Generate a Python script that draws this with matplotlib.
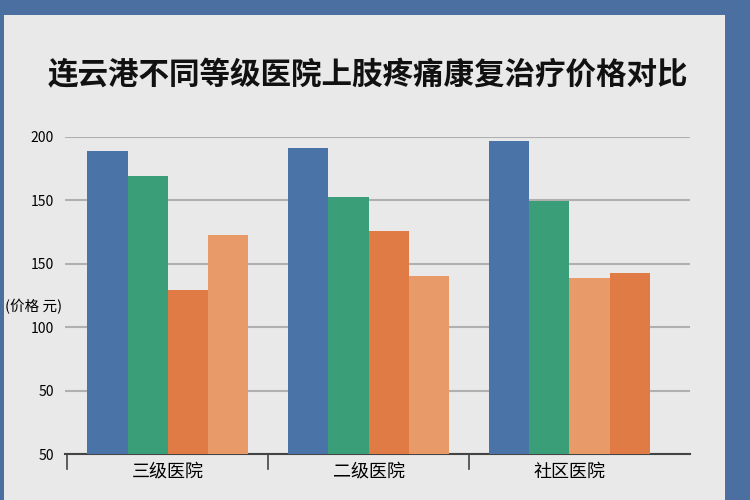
import matplotlib
matplotlib.use("Agg")
import matplotlib.pyplot as plt
from matplotlib.patches import Rectangle
import numpy as np

plt.rcParams['font.family'] = ['Noto Sans CJK SC', 'DejaVu Sans']

categories = ['三级医院', '二级医院', '社区医院']
series1 = [238.6, 241.0, 246.5]
series2 = [218.9, 203.0, 199.2]
series3 = [129.1, 175.6, 138.6]
series4 = [172.4, 140.2, 142.5]
tick_labels = ['50', '50', '100', '150', '150', '200']

c_blue, c_green, c_org, c_lorg = '#4a74a8', '#3a9e78', '#e07b45', '#e89a68'
colors3 = [c_org, c_org, c_lorg]
colors4 = [c_lorg, c_lorg, c_org]

fig = plt.figure(figsize=(7.5, 5), dpi=100)
fig.patch.set_facecolor('#4a6fa0')
fig.add_artist(Rectangle((4/750, 0), (725-4)/750, 485/500, transform=fig.transFigure,
                         facecolor='#e9e9e9', edgecolor='none', zorder=0))
ax = fig.add_axes([0.087, 0.092, 0.833, 0.634])
ax.set_facecolor('#e9e9e9')
x = np.arange(len(categories))
w = 0.2
for i, (vals, col) in enumerate([(series1, [c_blue]*3), (series2, [c_green]*3),
                                 (series3, colors3), (series4, colors4)]):
    ax.bar(x + (i - 1.5) * w, vals, w, color=col, zorder=3)
ax.set_xlim(-0.51, 2.6)
ax.set_ylim(0, 250)
ax.set_yticks(np.arange(0, 251, 50))
ax.set_yticklabels(tick_labels, fontsize=10)
ax.yaxis.grid(True, color='#b0b0b0', linewidth=1.5, zorder=0)
for s in ['top', 'right', 'left']:
    ax.spines[s].set_visible(False)
ax.spines['bottom'].set_color('#444444')
ax.spines['bottom'].set_linewidth(1.5)
ax.tick_params(axis='y', length=0, pad=8)
ax.set_xticks(x)
ax.set_xticklabels(categories, fontsize=13)
ax.tick_params(axis='x', length=0, pad=6)
for b in [-0.5, 0.5, 1.5]:
    ax.plot([b, b], [0, -12], color='#444444', lw=1.2, clip_on=False)
ax.set_ylabel('(价格 元)', fontsize=10.5, rotation=0, ha='center', va='center')
ax.yaxis.set_label_coords(-0.05, 0.465)
fig.text(0.49, 0.85, '连云港不同等级医院上肢疼痛康复治疗价格对比', ha='center', va='center',
         fontsize=22, fontweight='bold', color='#111111')
fig.savefig('out.png', dpi=100, facecolor=fig.get_facecolor())
